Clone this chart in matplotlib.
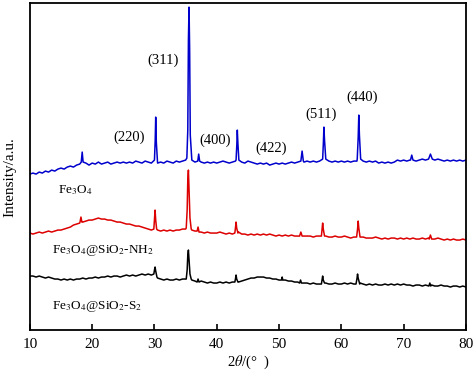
import numpy as np
import matplotlib
matplotlib.use('Agg')
import matplotlib.pyplot as plt

plt.rcParams['font.family'] = ['Liberation Serif', 'DejaVu Serif']
plt.rcParams['mathtext.fontset'] = 'stix'

# baseline intensities (a.u.) on a 0.5 deg grid from 10 to 80
fe3o4_base = [
    156, 157, 156, 158, 157, 159, 158, 160, 159, 161,
    162, 161, 163, 164, 163, 165, 166, 165, 167, 165,
    167, 166, 168, 166, 167, 168, 166, 167, 168, 167,
    168, 167, 168, 167, 169, 168, 167, 169, 168, 167,
    168, 167, 168, 167, 169, 168, 167, 169, 168, 169,
    170, 170, 170, 168, 169, 168, 167, 168, 167, 168,
    167, 168, 169, 168, 167, 168, 169, 169, 168, 167,
    169, 168, 167, 166, 167, 166, 167, 165, 166, 167,
    166, 167, 166, 167, 168, 167, 168, 169, 168, 169,
    168, 169, 168, 169, 170, 170, 169, 168, 169, 168,
    169, 168, 169, 168, 169, 169, 170, 169, 168, 169,
    168, 169, 167, 168, 167, 168, 167, 168, 170, 169,
    170, 169, 170, 170, 169, 170, 171, 170, 171, 172,
    170, 171, 170, 169, 170, 169, 170, 169, 170, 169,
    170]
nh2_base = [
    97, 96, 97, 98, 97, 98, 99, 98, 99, 100,
    100, 101, 102, 103, 105, 106, 107, 108, 109, 110,
    110, 111, 112, 111, 111, 110, 110, 109, 108, 108,
    107, 106, 106, 105, 104, 104, 103, 102, 101, 100,
    100, 100, 99, 100, 99, 100, 99, 100, 100, 101,
    101, 100, 100, 99, 98, 98, 97, 98, 97, 97,
    97, 98, 97, 96, 97, 96, 97, 98, 96, 96,
    95, 96, 95, 96, 95, 96, 95, 96, 95, 94,
    95, 94, 95, 94, 95, 94, 94, 95, 94, 94,
    94, 93, 94, 94, 95, 94, 93, 93, 94, 93,
    93, 94, 93, 92, 93, 93, 94, 93, 92, 92,
    92, 93, 92, 91, 92, 91, 92, 92, 91, 92,
    91, 92, 91, 92, 91, 91, 92, 91, 92, 93,
    91, 92, 91, 90, 91, 90, 91, 90, 90, 91,
    90]
s2_base = [
    54, 54, 53, 54, 53, 52, 53, 52, 51, 51,
    50, 51, 50, 51, 50, 51, 51, 52, 51, 52,
    52, 53, 52, 53, 53, 54, 53, 54, 54, 53,
    54, 55, 54, 55, 54, 55, 56, 55, 56, 55,
    56, 52, 51, 50, 51, 50, 50, 51, 50, 51,
    51, 51, 50, 49, 48, 49, 48, 47, 48, 47,
    47, 48, 47, 48, 47, 48, 48, 48, 49, 50,
    51, 52, 52, 53, 53, 53, 52, 52, 51, 51,
    50, 51, 50, 49, 49, 48, 48, 47, 47, 47,
    46, 47, 46, 46, 47, 47, 46, 46, 47, 46,
    46, 47, 46, 47, 46, 47, 47, 46, 45, 46,
    45, 46, 45, 45, 46, 45, 46, 45, 46, 45,
    46, 45, 45, 44, 45, 45, 44, 45, 44, 45,
    44, 44, 45, 44, 44, 43, 44, 44, 43, 44,
    43]

# diffraction peaks, (2theta, intensity) points
fe3o4_peaks = [
    [(18.25, 168), (18.4, 178), (18.55, 168)],
    [(30.0, 170), (30.12, 190), (30.2, 213), (30.3, 188), (30.45, 171)],
    [(35.2, 172), (35.35, 200), (35.45, 290), (35.55, 323), (35.65, 280), (35.75, 195), (35.95, 174)],
    [(36.95, 169), (37.1, 176), (37.25, 169)],
    [(43.1, 170), (43.22, 185), (43.3, 200), (43.4, 186), (43.55, 170)],
    [(53.5, 169), (53.7, 179), (53.9, 169)],
    [(57.0, 171), (57.12, 188), (57.2, 203), (57.3, 190), (57.5, 171)],
    [(62.55, 171), (62.7, 192), (62.8, 215), (62.9, 195), (63.1, 171)],
    [(71.1, 170), (71.3, 175), (71.5, 170)],
    [(74.0, 171), (74.3, 176), (74.6, 171)],
]
nh2_peaks = [
    [(18.05, 108), (18.2, 113), (18.35, 108)],
    [(29.9, 101), (30.0, 110), (30.1, 120), (30.2, 110), (30.35, 101)],
    [(35.1, 102), (35.25, 120), (35.35, 150), (35.45, 160), (35.55, 140), (35.7, 112), (35.9, 101)],
    [(36.85, 99), (37.0, 103), (37.15, 98)],
    [(42.9, 97), (43.0, 102), (43.1, 108), (43.2, 102), (43.4, 97)],
    [(53.3, 94), (53.5, 98), (53.7, 94)],
    [(56.8, 94), (56.9, 100), (57.0, 107), (57.1, 101), (57.3, 94)],
    [(62.45, 93), (62.6, 101), (62.7, 109), (62.8, 102), (63.0, 93)],
    [(74.1, 91), (74.3, 95), (74.5, 91)],
]
s2_peaks = [
    [(29.9, 56), (30.0, 60), (30.1, 63), (30.2, 59), (30.4, 53)],
    [(35.1, 51), (35.25, 60), (35.35, 75), (35.45, 80), (35.55, 70), (35.7, 56), (35.9, 51)],
    [(36.85, 48), (37.0, 51), (37.15, 48)],
    [(42.9, 48), (43.0, 51), (43.1, 55), (43.2, 51), (43.4, 48)],
    [(50.4, 50), (50.5, 53), (50.6, 50)],
    [(53.3, 47), (53.45, 50), (53.6, 47)],
    [(56.8, 46), (56.9, 50), (57.0, 54), (57.1, 50), (57.3, 47)],
    [(62.35, 46), (62.5, 51), (62.6, 56), (62.7, 52), (62.95, 46)],
    [(74.05, 44), (74.2, 47), (74.35, 44)],
]

hkl_labels = ['(220)', '(311)', '(400)', '(422)', '(511)', '(440)']
hkl_x = [26.0, 31.4, 39.7, 48.7, 56.7, 63.3]
hkl_y = [193, 270, 190, 182, 216, 233]

sample_names = [r'Fe$_3$O$_4$', r'Fe$_3$O$_4$@SiO$_2$-NH$_2$', r'Fe$_3$O$_4$@SiO$_2$-S$_2$']
sample_x = [14.5, 13.5, 13.5]
sample_y = [140, 80, 24]


def build(base, peaks):
    x = np.linspace(10, 80, len(base))
    y = np.array(base, dtype=float)
    keep = np.ones(len(x), bool)
    for pk in peaks:
        lo, hi = pk[0][0], pk[-1][0]
        keep &= ~((x >= lo) & (x <= hi))
    px = [p[0] for pk in peaks for p in pk]
    py = [p[1] for pk in peaks for p in pk]
    xx = np.concatenate([x[keep], px])
    yy = np.concatenate([y[keep], py])
    o = np.argsort(xx)
    return xx[o], yy[o]


fig = plt.figure(figsize=(4.74, 3.74), dpi=100)
ax = fig.add_axes([0.063, 0.1176, 0.92, 0.874])

for base, peaks, c in [(fe3o4_base, fe3o4_peaks, '#0000CC'),
                       (nh2_base, nh2_peaks, '#DD0000'),
                       (s2_base, s2_peaks, 'black')]:
    x, y = build(base, peaks)
    ax.plot(x, y, color=c, lw=1.1)

for t, x, y in zip(hkl_labels, hkl_x, hkl_y):
    ax.text(x, y, t, ha='center', va='center', fontsize=10.5)
for t, x, y in zip(sample_names, sample_x, sample_y):
    ax.text(x, y, t, ha='left', va='center', fontsize=9.5)

ax.set_xlim(10, 80)
ax.set_ylim(0, 327)
ax.set_xticks(range(10, 81, 10))
ax.set_yticks([])
ax.tick_params(axis='x', direction='in', length=4, width=1.2, labelsize=11, pad=6)
for s in ax.spines.values():
    s.set_linewidth(1.3)
ax.set_xlabel(r'2$\theta$/(°  )', fontsize=10.5, labelpad=2)
ax.set_ylabel('Intensity/a.u.', fontsize=11)
ax.yaxis.set_label_coords(-0.03, 0.468)

fig.savefig('out.png', dpi=100)
